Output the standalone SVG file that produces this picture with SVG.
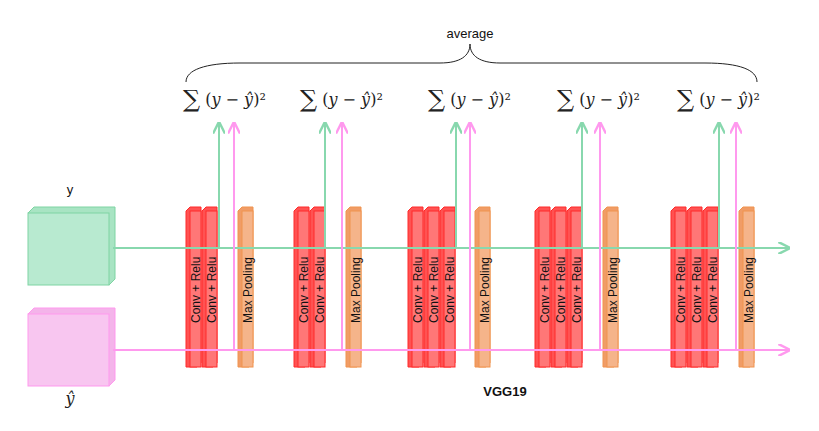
<svg xmlns="http://www.w3.org/2000/svg" width="819" height="431" viewBox="0 0 819 431">
<defs>
<style>
.t{font-family:"Liberation Sans",Arial,sans-serif;font-size:13px;fill:#111}
.b{font-size:12px}
.conv{fill:#ff7777;stroke:#ff2a2a;stroke-width:1}
.convt{fill:#ff5252;stroke:#ff2a2a;stroke-width:1}
.mp{fill:#f5b48a;stroke:#f0934f;stroke-width:1}
.mpt{fill:#f09c66;stroke:#f0934f;stroke-width:1}
.g{stroke:#88d8ae;stroke-width:2;fill:none}
.p{stroke:#ff99ee;stroke-width:2;fill:none}
.f{font-family:"DejaVu Serif","Liberation Serif",serif;font-size:16px;fill:#222}
.s{font-size:24px}
</style>
<marker id="ag" viewBox="0 0 10 10" refX="8" refY="5" markerWidth="6" markerHeight="6" orient="auto"><path d="M0,0 L10,5 L0,10" fill="none" stroke="#88d8ae" stroke-width="2"/></marker>
<marker id="ap" viewBox="0 0 10 10" refX="8" refY="5" markerWidth="6" markerHeight="6" orient="auto"><path d="M0,0 L10,5 L0,10" fill="none" stroke="#ff99ee" stroke-width="2"/></marker>
<symbol id="cv" overflow="visible"><path class="convt" d="M0,4 L4,0 L15,0 L15,156 L11,160 L0,160Z"/><rect class="conv" x="4" y="4" width="11" height="156"/><text class="t b" transform="translate(13.5,116) rotate(-90)">Conv + Relu</text></symbol>
<symbol id="mpool" overflow="visible"><path class="mpt" d="M0,4 L4,0 L15,0 L15,156 L11,160 L0,160Z"/><rect class="mp" x="4" y="4" width="11" height="156"/><text class="t b" transform="translate(13.5,116) rotate(-90)">Max Pooling</text></symbol>
</defs>
<rect width="819" height="431" fill="#fff"/>
<g id="input-y">
<path d="M28,213 L34,207 L115,207 L115,279 L109,285 Z" fill="#a8e4c3" stroke="#7fd4a3"/>
<rect x="28" y="213" width="81" height="72" fill="#b8ead0" stroke="#7fd4a3"/>
<text class="t" x="70" y="194" text-anchor="middle" font-size="15">y</text>
</g>
<g id="input-yhat">
<path d="M28,314 L34,308 L115,308 L115,380 L109,386 Z" fill="#f4b4ea" stroke="#ff99ee"/>
<rect x="28" y="314" width="81" height="72" fill="#f8c6f0" stroke="#ff99ee"/>
<text class="f" x="70" y="404" text-anchor="middle" font-style="italic">ŷ</text>
</g>
<g id="layers">
<use href="#cv" x="186" y="207"/><use href="#cv" x="202" y="207"/><use href="#mpool" x="238" y="207"/>
<use href="#cv" x="294" y="207"/><use href="#cv" x="310" y="207"/><use href="#mpool" x="346" y="207"/>
<use href="#cv" x="408" y="207"/><use href="#cv" x="424" y="207"/><use href="#cv" x="440" y="207"/><use href="#mpool" x="475" y="207"/>
<use href="#cv" x="535" y="207"/><use href="#cv" x="551" y="207"/><use href="#cv" x="567" y="207"/><use href="#mpool" x="603" y="207"/>
<use href="#cv" x="671" y="207"/><use href="#cv" x="687" y="207"/><use href="#cv" x="703" y="207"/><use href="#mpool" x="739" y="207"/>
</g>
<g id="connectors">
<line class="g" x1="113" y1="248" x2="788" y2="248" marker-end="url(#ag)"/>
<line class="p" x1="113" y1="350" x2="788" y2="350" marker-end="url(#ap)"/>
<line class="g" x1="219" y1="248" x2="219" y2="124" marker-end="url(#ag)"/>
<line class="g" x1="325" y1="248" x2="325" y2="124" marker-end="url(#ag)"/>
<line class="g" x1="456" y1="248" x2="456" y2="124" marker-end="url(#ag)"/>
<line class="g" x1="582" y1="248" x2="582" y2="124" marker-end="url(#ag)"/>
<line class="g" x1="719" y1="248" x2="719" y2="124" marker-end="url(#ag)"/>
<line class="p" x1="234" y1="350" x2="234" y2="124" marker-end="url(#ap)"/>
<line class="p" x1="342" y1="350" x2="342" y2="124" marker-end="url(#ap)"/>
<line class="p" x1="470" y1="350" x2="470" y2="124" marker-end="url(#ap)"/>
<line class="p" x1="600" y1="350" x2="600" y2="124" marker-end="url(#ap)"/>
<line class="p" x1="736" y1="350" x2="736" y2="124" marker-end="url(#ap)"/>
<path d="M186,82 C186,70 205,63 240,63 L440,63 C460,63 470,56 470,44 C470,56 480,63 500,63 L705,63 C740,63 757,70 757,82" fill="none" stroke="#222" stroke-width="1"/>
</g>
<g id="loss">
<text class="f" x="183" y="105"><tspan class="s" dy="2">∑</tspan><tspan dy="-2"> (</tspan><tspan font-style="italic">y</tspan> − <tspan font-style="italic">ŷ</tspan>)²</text>
<text class="f" x="300" y="105"><tspan class="s" dy="2">∑</tspan><tspan dy="-2"> (</tspan><tspan font-style="italic">y</tspan> − <tspan font-style="italic">ŷ</tspan>)²</text>
<text class="f" x="428" y="105"><tspan class="s" dy="2">∑</tspan><tspan dy="-2"> (</tspan><tspan font-style="italic">y</tspan> − <tspan font-style="italic">ŷ</tspan>)²</text>
<text class="f" x="557" y="105"><tspan class="s" dy="2">∑</tspan><tspan dy="-2"> (</tspan><tspan font-style="italic">y</tspan> − <tspan font-style="italic">ŷ</tspan>)²</text>
<text class="f" x="677" y="105"><tspan class="s" dy="2">∑</tspan><tspan dy="-2"> (</tspan><tspan font-style="italic">y</tspan> − <tspan font-style="italic">ŷ</tspan>)²</text>
<text class="t" x="470" y="38" text-anchor="middle" font-size="14">average</text>
<text class="t" x="505" y="396" text-anchor="middle" font-weight="bold" font-size="11">VGG19</text>
</g>
</svg>
